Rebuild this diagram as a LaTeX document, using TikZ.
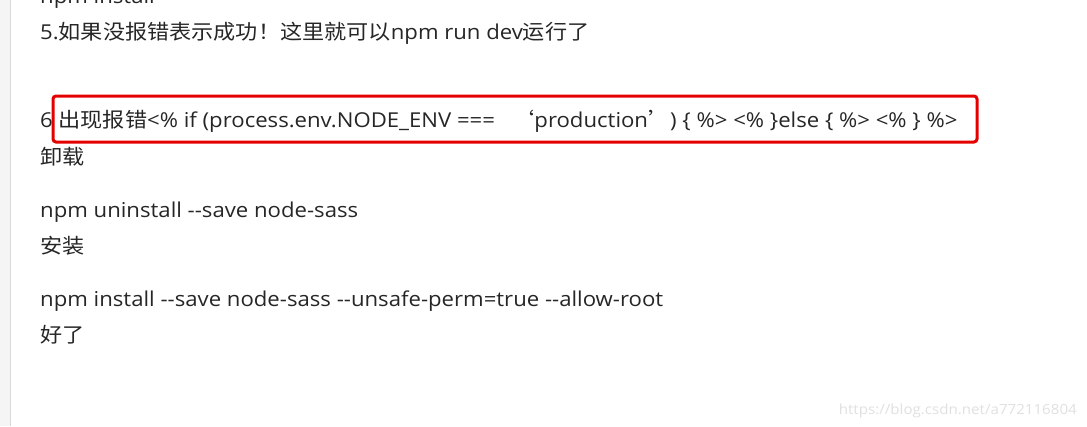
\documentclass[tikz,border=0pt]{standalone}
\usepackage{fontspec}
\setmainfont[FakeStretch=1.08]{Open Sans}
\newfontfamily\cjk[FakeStretch=1.08]{Noto Sans CJK SC}
\begin{document}
\begin{tikzpicture}[x=1pt,y=-1pt,
  txt/.style={anchor=base west,inner sep=0pt,font=\fontsize{20.5}{23}\selectfont,text=black!85}]
\useasboundingbox (0,0) rectangle (1087,426);
\fill[black!4] (0,0) rectangle (10,426);
\draw[black!15] (10.5,0) -- (10.5,426);
\begin{scope}
\clip (0,0) rectangle (1087,426);
\node[txt] (l0) at (40,3) {npm install};
\end{scope}
\node[txt] (l1) at (40,39) {5.{\cjk 如果没报错表示成功！这里就可以}npm run dev{\cjk 运行了}};
\node[txt] (l2) at (40,127) {6 {\cjk 出现报错}<\% if (process.env.NODE\_ENV ===\ \ \ {\cjk ‘}production{\cjk ’}) \{ \%> <\% \}else \{ \%> <\% \} \%>};
\node[txt] (l3) at (40,164) {\cjk 卸载};
\node[txt] (l4) at (40,217) {npm uninstall -{}-save node-sass};
\node[txt] (l5) at (40,253) {\cjk 安装};
\node[txt] (l6) at (40,306) {npm install -{}-save node-sass -{}-unsafe-perm=true -{}-allow-root};
\node[txt] (l7) at (40,342) {\cjk 好了};
\draw[red!90!black,line width=3pt,rounded corners=3pt] (53,96) rectangle (977,142);
\node[anchor=base east,inner sep=0pt,font=\fontsize{14}{16}\selectfont,text=black!12] (wm) at (1077,414) {https://blog.csdn.net/a772116804};
\end{tikzpicture}
\end{document}
